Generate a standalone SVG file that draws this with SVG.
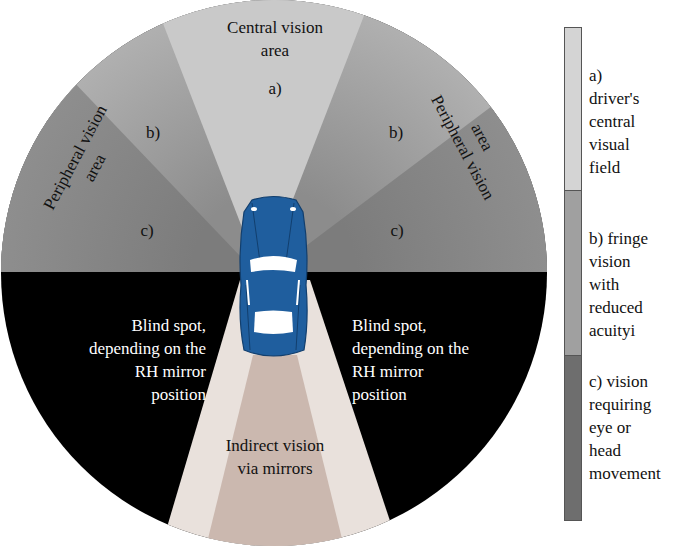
<svg xmlns="http://www.w3.org/2000/svg" width="685" height="551" viewBox="0 0 685 551">
<style>
text{font-family:"Liberation Serif",serif;font-size:17px;fill:#111}
.w{fill:#fff}
.m{text-anchor:middle}
</style>
<defs>
<clipPath id="cc"><circle cx="274" cy="273" r="273"/></clipPath>
<clipPath id="top"><rect x="0" y="0" width="548" height="272"/></clipPath>
<radialGradient id="gb" cx="274" cy="272" r="273" gradientUnits="userSpaceOnUse"><stop offset="0.3" stop-color="#8c8c8c"/><stop offset="1" stop-color="#b0b0b0"/></radialGradient>
<radialGradient id="gc" cx="274" cy="272" r="273" gradientUnits="userSpaceOnUse"><stop offset="0.3" stop-color="#7c7c7c"/><stop offset="1" stop-color="#8e8e8e"/></radialGradient>
</defs>
<g id="field" clip-path="url(#cc)">
<rect x="0" y="0" width="548" height="551" fill="#000"/>
<g clip-path="url(#top)">
<rect x="0" y="0" width="548" height="272" fill="url(#gc)"/>
<polygon points="262,279 -20,50 0,0 548,0 560,60" fill="url(#gb)"/>
<polygon points="262,279 -100,-100 -300,-300 -300,300" fill="url(#gc)" transform="rotate(0)"/>
<polygon points="262,279 30,90 -50,80 -50,300" fill="url(#gc)"/>
<polygon points="262,279 500,100 600,90 600,300" fill="url(#gc)"/>
<polygon points="262,279 152,-5 372,-5" fill="#c9c9c9"/>
</g>
<polygon points="240,280 310,280 400,551 160,551" fill="#e9e1dc"/>
<polygon points="253,355 297,355 345,551 205,551" fill="#cbb8af"/>
</g>
<g id="car">
<path d="M252,200 Q273,193 296,200 L303,212 Q309,250 306,285 Q309,320 304,350 Q273,362 244,350 Q238,320 241,285 Q238,250 244,212 Z" fill="#1f5e9e" stroke="#123f6e" stroke-width="1.2"/>
<path d="M252,203 L260,262 M294,203 L286,262 M246,285 L250,350 M300,285 L296,350" stroke="#123f6e" stroke-width="1" fill="none"/>
<ellipse cx="254" cy="209" rx="3" ry="2" fill="#fff"/><ellipse cx="293" cy="209" rx="3" ry="2" fill="#fff"/>
<path d="M250,260 Q273,252 297,260 L295,272 Q273,268 251,272 Z" fill="#fff"/>
<path d="M255,312 Q273,309 292,312 L293,332 Q273,336 254,332 Z" fill="#fff"/>
<path d="M247,280 L249,305 M299,280 L297,305" stroke="#fff" stroke-width="2"/>
</g>
<g id="labels">
<text x="275" y="33" class="m">Central vision</text>
<text x="275" y="56" class="m">area</text>
<text x="275" y="94" class="m">a)</text>
<text x="153" y="138" class="m">b)</text>
<text x="396" y="138" class="m">b)</text>
<text x="147" y="236" class="m">c)</text>
<text x="397" y="236" class="m">c)</text>
<g transform="translate(80,160) rotate(-62)"><text x="0" y="0" class="m">Peripheral vision</text><text x="0" y="22" class="m">area</text></g>
<g transform="translate(458,150) rotate(62)"><text x="0" y="0" class="m">Peripheral vision</text><text x="0" y="-22" class="m">area</text></g>
<text x="206" y="331" class="w" text-anchor="end">Blind spot,</text>
<text x="206" y="354" class="w" text-anchor="end">depending on the</text>
<text x="206" y="377" class="w" text-anchor="end">RH mirror</text>
<text x="206" y="400" class="w" text-anchor="end">position</text>
<text x="352" y="331" class="w">Blind spot,</text>
<text x="352" y="354" class="w">depending on the</text>
<text x="352" y="377" class="w">RH mirror</text>
<text x="352" y="400" class="w">position</text>
<text x="275" y="451" class="m">Indirect vision</text>
<text x="275" y="474" class="m">via mirrors</text>
</g>
<g id="legend">
<rect x="564.5" y="27.5" width="17" height="163" fill="#d4d4d4" stroke="#555"/>
<rect x="564.5" y="190.5" width="17" height="165" fill="#a0a0a0" stroke="#555"/>
<rect x="564.5" y="355.5" width="17" height="165" fill="#6e6e6e" stroke="#555"/>
<text x="589" y="81">a)</text><text x="589" y="104">driver's</text><text x="589" y="127">central</text><text x="589" y="150">visual</text><text x="589" y="173">field</text>
<text x="589" y="244">b) fringe</text><text x="589" y="267">vision</text><text x="589" y="290">with</text><text x="589" y="313">reduced</text><text x="589" y="336">acuityi</text>
<text x="589" y="387">c) vision</text><text x="589" y="410">requiring</text><text x="589" y="433">eye or</text><text x="589" y="456">head</text><text x="589" y="479">movement</text>
</g>
</svg>
